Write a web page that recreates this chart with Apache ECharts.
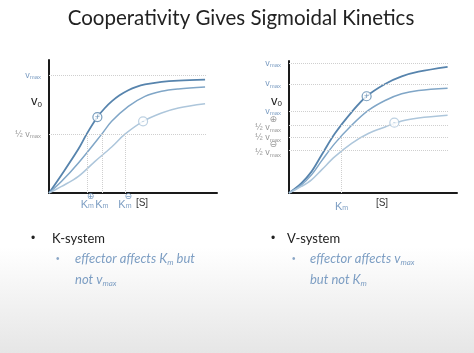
<!DOCTYPE html>
<html>
<head>
<meta charset="utf-8">
<script src="https://cdn.jsdelivr.net/npm/echarts@6/dist/echarts.min.js"></script>
<style>
  html, body { margin: 0; padding: 0; }
  #main { width: 474px; height: 353px; }
</style>
</head>
<body>
<div id="main"></div>
<script>
// K-system (left): [S] vs v0, vmax = 100
var kPlusCurve  = [[0,0],[7.5,15.6],[17.5,37.4],[22.4,50],[28.8,64.5],[33,71.8],[37.3,77.8],[42,83],[47.2,87.3],[52,90.2],[57.1,92.2],[67,94.4],[77,95.5],[92.9,96.3]];
var kCurve      = [[0,0],[7.5,9.9],[17.5,25.5],[31.4,50],[37.3,60.9],[47.2,73.6],[57.1,82.1],[67,86.4],[77,88.4],[92.9,90.1]];
var kMinusCurve = [[0,0],[7.5,5.6],[17.5,14.1],[27.4,26.9],[37.3,39.1],[45.2,50],[56,60.9],[67,68],[77,72.3],[92.9,75.9]];
var kLevels = [100, 50];            // vmax, 1/2 vmax
var kKm = [22.8, 31.4, 45.2];       // Km+, Km, Km-
var kMarkers = [[28.8, 64.5], [56, 60.9]];

// V-system (right)
var vPlusCurve  = [[0,0],[7.4,9.1],[13.4,19.6],[19.4,34.8],[27.3,54.5],[37.3,74.2],[46.2,88.7],[57.2,100],[67.1,106.9],[77.1,111.2],[94.4,115.7]];
var vCurve      = [[0,0],[7.4,7.5],[13.4,16.6],[19.4,29.4],[27.3,45.5],[37.3,62.1],[47.2,75.7],[57.2,84.8],[67.1,90.9],[77.1,93.9],[94.4,96]];
var vMinusCurve = [[0,0],[7.4,6],[13.4,12.1],[19.4,21.2],[27.3,33.3],[37.3,45.5],[47.2,54.5],[57.2,60.5],[67.1,66],[77.1,68.7],[94.4,71.2]];
var vLevels = [119, 100, 75, 62, 51, 39];  // vmax+, vmax, vmax-, halves
var vKm = 31.3;
var vMarkers = [[46.2, 88.7], [62.7, 64.5]];

var C1 = '#5784ad', C2 = '#80a6c7', C3 = '#adc6db';
var BLUE = '#7d9ec3', GREY = '#9a9a9a';
var FONT = 'Liberation Sans';

var rich = {
  v:   { fontSize: 9, color: BLUE, fontFamily: FONT },
  s:   { fontSize: 6, color: BLUE, fontFamily: FONT, verticalAlign: 'bottom', padding: [5, 0, 0, 0] },
  hv:  { fontSize: 9, color: GREY, fontFamily: FONT },
  hs:  { fontSize: 6, color: GREY, fontFamily: FONT, verticalAlign: 'bottom', padding: [5, 0, 0, 0] },
  sup: { fontSize: 9, color: GREY, fontFamily: 'DejaVu Sans', lineHeight: 5, padding: [0, 4, 0, 0] },
  K:   { fontSize: 11, color: BLUE, fontFamily: FONT },
  m:   { fontSize: 7, color: BLUE, fontFamily: FONT, verticalAlign: 'bottom', padding: [4, 0, 0, 0] },
  kp:  { fontSize: 7, width: 6.5, lineHeight: 5 },
  ksup:{ fontSize: 9, color: BLUE, fontFamily: 'DejaVu Sans', lineHeight: 5 },
  v0:  { fontSize: 13, color: '#222', fontFamily: FONT },
  v0s: { fontSize: 8, color: '#222', fontFamily: FONT, verticalAlign: 'bottom', padding: [6, 0, 0, 0] }
};

// handwritten-looking bullet text
var noteRich = {
  k: { fontSize: 13, fontFamily: 'Lato', fontStyle: 'italic', color: '#7d9ec3' },
  s: { fontSize: 8, fontFamily: 'Lato', fontStyle: 'italic', color: '#7d9ec3', verticalAlign: 'bottom', padding: [7, 0, 0, 0] }
};

function hLine(y, xEnd, text) {
  return [{ coord: [0, y], label: { formatter: text } }, { coord: [xEnd, y] }];
}
function vLine(x, yEnd, text, dist) {
  return [{ coord: [x, 0], label: { formatter: text, distance: dist } }, { coord: [x, yEnd] }];
}

function markLineOpt(data) {
  return {
    silent: true,
    symbol: ['none', 'none'],
    animation: false,
    lineStyle: { color: '#cfcfcf', type: 'dotted', width: 1 },
    label: { position: 'start', distance: 8, rich: rich },
    data: data
  };
}

function curve(data, color, idx, width, ml) {
  var s = {
    type: 'line', xAxisIndex: idx, yAxisIndex: idx, data: data,
    smooth: 0.35, showSymbol: false, silent: true,
    lineStyle: { color: color, width: width }
  };
  if (ml) s.markLine = ml;
  return s;
}

function marker(pt, color, idx, sign) {
  return {
    type: 'scatter', xAxisIndex: idx, yAxisIndex: idx, data: [pt], z: 5,
    symbolSize: 9, silent: true,
    itemStyle: { color: '#fff', borderColor: color, borderWidth: 1.2 },
    label: { show: true, position: 'inside', formatter: sign, color: color, fontSize: 9, fontFamily: FONT }
  };
}

function xAx(idx) {
  return {
    gridIndex: idx, type: 'value', min: 0, max: 100,
    axisLine: { show: true, onZero: false, lineStyle: { color: '#1a1a1a', width: 2 } },
    axisTick: { show: false }, axisLabel: { show: false }, splitLine: { show: false },
    name: '[S]', nameLocation: 'middle', nameGap: 5,
    nameTextStyle: { color: '#333', fontSize: 10, fontFamily: FONT, padding: [0, 0, 0, 18], verticalAlign: 'top' }
  };
}
function yAx(idx, max, pad) {
  return {
    gridIndex: idx, type: 'value', min: 0, max: max,
    axisLine: { show: true, onZero: false, lineStyle: { color: '#1a1a1a', width: 2 } },
    axisTick: { show: false }, axisLabel: { show: false }, splitLine: { show: false },
    name: '{v0|v}{v0s|0}', nameLocation: 'middle', nameRotate: 0, nameGap: 7,
    nameTextStyle: { padding: [0, 0, pad, 0], rich: rich }
  };
}

function note(x, y, text) {
  return { type: 'text', x: x, y: y, style: {
    text: text, fontSize: 13, fontFamily: 'Lato', fontStyle: 'italic', fill: '#7d9ec3',
    verticalAlign: 'middle', rich: noteRich } };
}

var chart = echarts.init(document.getElementById('main'));

chart.setOption({
  animation: false,
  backgroundColor: {
    type: 'linear', x: 0, y: 0, x2: 0, y2: 1,
    colorStops: [{ offset: 0, color: '#ffffff' }, { offset: 0.7, color: '#ffffff' }, { offset: 1, color: '#e6e6e6' }]
  },
  grid: [
    { left: 49, top: 60, width: 168, height: 133 },
    { left: 289, top: 61, width: 168, height: 132 }
  ],
  xAxis: [xAx(0), xAx(1)],
  yAxis: [yAx(0, 113, 50), yAx(1, 121, 52)],
  series: [
    curve(kPlusCurve, C1, 0, 1.8, markLineOpt([
      hLine(kLevels[0], 94, '{v|v}{s|max}'),
      hLine(kLevels[1], 94, '{hv|½ v}{hs|max}'),
      vLine(kKm[0], kLevels[1], '{kp| }{ksup|⊕}\n{K|K}{m|m}', 1),
      vLine(kKm[1], kLevels[1], '{kp| }\n{K|K}{m|m}', 1),
      vLine(kKm[2], kLevels[1], '{kp| }{ksup|⊖}\n{K|K}{m|m}', 1)
    ])),
    curve(kCurve, C2, 0, 1.5),
    curve(kMinusCurve, C3, 0, 1.5),
    marker(kMarkers[0], C1, 0, '+'),
    marker(kMarkers[1], C3, 0, '-'),

    curve(vPlusCurve, C1, 1, 1.8, markLineOpt([
      hLine(vLevels[0], 95, '{v|v}{s|max}'),
      hLine(vLevels[1], 95, '{v|v}{s|max}'),
      hLine(vLevels[2], 95, '{v|v}{s|max}'),
      hLine(vLevels[3], 95, '{sup|⊕}\n{hv|½ v}{hs|max}'),
      hLine(vLevels[4], 95, '{hv|½ v}{hs|max}'),
      hLine(vLevels[5], 95, '{sup|⊖}\n{hv|½ v}{hs|max}'),
      vLine(vKm, vLevels[4], '{K|K}{m|m}', 8)
    ])),
    curve(vCurve, C2, 1, 1.5),
    curve(vMinusCurve, C3, 1, 1.5),
    marker(vMarkers[0], C1, 1, '+'),
    marker(vMarkers[1], C3, 1, '-')
  ],
  graphic: [
    { type: 'text', x: 241, y: 18, style: { text: 'Cooperativity Gives Sigmoidal Kinetics', fontSize: 20.5, fontFamily: 'Lato', fill: '#222', align: 'center', verticalAlign: 'middle' } },

    { type: 'text', x: 31, y: 239, style: { text: '•', fontSize: 12, fill: '#222', verticalAlign: 'middle' } },
    { type: 'text', x: 52, y: 239, style: { text: 'K-system', fontSize: 13, fontFamily: 'Lato', fill: '#222', verticalAlign: 'middle' } },
    { type: 'text', x: 56, y: 259, style: { text: '•', fontSize: 10, fill: '#8aa6c6', verticalAlign: 'middle' } },
    note(75, 259, 'effector affects {k|K}{s|m} but'),
    note(75, 280, 'not {k|v}{s|max}'),

    { type: 'text', x: 271, y: 239, style: { text: '•', fontSize: 12, fill: '#222', verticalAlign: 'middle' } },
    { type: 'text', x: 287, y: 239, style: { text: 'V-system', fontSize: 13, fontFamily: 'Lato', fill: '#222', verticalAlign: 'middle' } },
    { type: 'text', x: 292, y: 259, style: { text: '•', fontSize: 10, fill: '#8aa6c6', verticalAlign: 'middle' } },
    note(310, 259, 'effector affects {k|v}{s|max}'),
    note(310, 280, 'but not {k|K}{s|m}')
  ]
});
</script>
</body>
</html>
